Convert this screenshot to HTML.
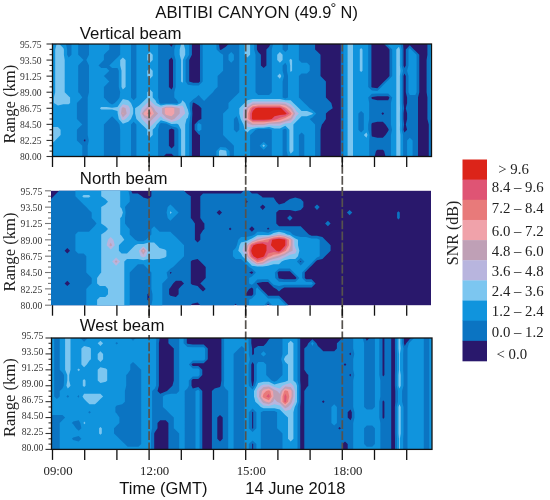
<!DOCTYPE html>
<html><head><meta charset="utf-8"><title>ABITIBI CANYON</title>
<style>
html,body{margin:0;padding:0;background:#fff;width:550px;height:500px;overflow:hidden}
svg{display:block}
.yt{font-family:'Liberation Serif', 'Times New Roman', serif;font-size:9.6px;fill:#333}
.xt{font-family:'Liberation Serif', 'Times New Roman', serif;font-size:12.8px;fill:#222}
.rl{font-family:'Liberation Serif', 'Times New Roman', serif;font-size:16.6px;fill:#222}
.cb{font-family:'Liberation Serif', 'Times New Roman', serif;font-size:14.8px;fill:#222}
.cbl{font-family:'Liberation Serif', 'Times New Roman', serif;font-size:16px;fill:#222}
.pl{font-family:'Liberation Sans', Arial, sans-serif;font-size:16px;fill:#111}
.xl{font-family:'Liberation Sans', Arial, sans-serif;font-size:16.5px;fill:#111}
.ti{font-family:'Liberation Sans', Arial, sans-serif;font-size:16px;fill:#111}
</style></head><body>
<svg width="550" height="500" viewBox="0 0 550 500" shape-rendering="geometricPrecision">
<rect width="550" height="500" fill="#fff"/>
<rect x="52.5" y="44.0" width="379.0" height="112.5" fill="#29186c"/>
<path fill="#0b74c2" d="M52.5 156.5L57.9 156.5L63.3 156.5L68.7 156.5L74.2 156.5L79.6 156.5L85.0 156.5L90.4 156.5L95.8 156.5L101.2 156.5L106.6 156.5L112.1 156.5L117.5 156.5L122.9 156.5L128.3 156.5L133.7 156.5L139.1 156.5L144.5 156.5L150.0 156.5L155.4 156.5L160.8 156.5L163.5 156.5L166.2 153.8L171.6 153.8L174.3 156.5L177.0 156.5L182.4 156.5L187.9 156.5L191.9 156.5L191.9 151.1L191.9 145.8L191.9 140.4L191.9 135.1L191.9 129.7L191.9 124.4L192.1 119.0L192.4 113.6L192.1 108.3L192.7 102.9L193.3 102.4L194.6 102.9L198.7 105.6L201.4 108.3L201.4 113.6L201.4 119.0L198.7 120.3L194.6 124.4L194.6 129.7L198.7 134.5L200.0 135.1L200.0 140.4L200.0 145.8L200.0 151.1L200.0 156.5L204.1 156.5L209.5 156.5L214.9 156.5L220.3 156.5L225.8 156.5L231.2 156.5L236.6 156.5L242.0 156.5L247.4 156.5L252.8 156.5L258.2 156.5L263.7 156.5L269.1 156.5L274.5 156.5L279.9 156.5L285.3 156.5L290.7 156.5L296.1 156.5L301.6 156.5L307.0 156.5L312.4 156.5L317.8 156.5L320.5 156.5L320.5 151.1L320.5 145.8L320.5 140.4L320.5 135.1L320.5 129.7L321.9 124.4L323.2 123.0L325.9 119.0L325.9 113.6L328.6 111.0L332.7 108.3L331.3 102.9L328.6 100.2L325.9 97.6L325.9 92.2L325.9 86.9L325.9 81.5L323.2 78.8L320.5 76.1L320.5 70.8L320.5 65.4L320.5 60.1L320.5 54.7L317.8 52.0L315.1 49.4L315.1 44.0L312.4 44.0L307.0 44.0L301.6 44.0L296.1 44.0L290.7 44.0L285.3 44.0L279.9 44.0L274.5 44.0L270.4 44.0L269.1 46.7L266.4 49.4L266.4 54.7L266.4 60.1L266.4 65.4L263.7 68.1L260.9 65.4L260.9 60.1L260.9 54.7L258.2 52.0L256.9 49.4L256.9 44.0L252.8 44.0L247.4 44.0L242.0 44.0L236.6 44.0L231.2 44.0L228.5 44.0L225.8 46.7L221.7 49.4L220.3 49.9L219.8 49.4L219.0 44.0L214.9 44.0L209.5 44.0L204.1 44.0L200.0 44.0L200.0 49.4L200.0 54.7L200.0 60.1L200.0 65.4L200.0 70.8L200.0 76.1L200.0 81.5L198.7 82.8L193.3 82.8L189.2 81.5L189.2 76.1L189.2 70.8L189.2 65.4L189.2 60.1L191.9 54.7L191.9 49.4L191.9 44.0L187.9 44.0L182.4 44.0L177.0 44.0L173.0 44.0L171.6 46.7L168.9 44.0L166.2 44.0L160.8 44.0L155.4 44.0L150.0 44.0L144.5 44.0L139.1 44.0L133.7 44.0L128.3 44.0L122.9 44.0L117.5 44.0L112.1 44.0L106.6 44.0L101.2 44.0L95.8 44.0L90.4 44.0L85.0 44.0L79.6 44.0L74.2 44.0L68.7 44.0L63.3 44.0L57.9 44.0L52.5 44.0L52.5 49.4L52.5 54.7L52.5 60.1L52.5 65.4L52.5 70.8L52.5 76.1L52.5 81.5L52.5 86.9L52.5 92.2L52.5 97.6L52.5 102.9L52.5 108.3L52.5 113.6L52.5 119.0L52.5 124.4L52.5 129.7L52.5 135.1L52.5 140.4L52.5 145.8L52.5 151.1ZM85.0 141.8L83.6 140.4L85.0 139.1L85.5 140.4ZM171.6 148.5L168.9 145.8L168.9 140.4L168.9 135.1L168.9 129.7L171.6 128.6L174.3 129.7L174.3 135.1L174.3 140.4L174.3 145.8ZM171.6 89.5L168.9 86.9L168.9 81.5L168.9 76.1L168.9 70.8L168.9 65.4L168.9 60.1L171.6 57.4L173.0 60.1L173.0 65.4L173.0 70.8L173.0 76.1L173.0 81.5L173.0 86.9ZM340.8 156.5L344.9 156.5L350.3 156.5L355.7 156.5L361.1 156.5L366.5 156.5L371.9 156.5L374.6 156.5L376.0 151.1L377.4 149.8L382.8 149.8L384.1 151.1L385.5 156.5L388.2 156.5L393.6 156.5L399.0 156.5L404.4 156.5L409.8 156.5L415.3 156.5L418.0 156.5L418.0 151.1L418.0 145.8L418.0 140.4L418.0 135.1L418.0 129.7L418.0 124.4L418.0 119.0L418.0 113.6L418.0 108.3L418.0 102.9L418.0 97.6L419.3 92.2L419.3 86.9L419.3 81.5L419.3 76.1L419.3 70.8L419.3 65.4L419.3 60.1L419.3 54.7L415.3 50.7L413.9 49.4L409.8 45.3L405.8 49.4L405.8 54.7L405.8 60.1L405.8 65.4L404.4 68.1L403.5 65.4L403.5 60.1L403.5 54.7L403.5 49.4L403.1 44.0L399.0 44.0L393.6 44.0L388.2 44.0L384.1 44.0L388.2 48.0L389.5 49.4L389.5 54.7L389.5 60.1L389.5 65.4L389.5 70.8L389.5 76.1L388.2 77.5L384.1 81.5L382.8 82.8L378.7 86.9L377.4 88.2L371.9 87.4L371.4 86.9L371.4 81.5L371.4 76.1L371.4 70.8L371.4 65.4L371.4 60.1L371.4 54.7L371.4 49.4L371.4 44.0L366.5 44.0L361.1 44.0L355.7 44.0L350.3 44.0L344.9 44.0L340.8 44.0L340.8 49.4L340.8 54.7L340.8 60.1L340.8 65.4L340.8 70.8L340.8 76.1L340.8 81.5L340.8 86.9L340.8 92.2L340.8 97.6L340.8 102.9L340.8 108.3L340.8 113.6L340.8 119.0L340.8 124.4L340.8 129.7L340.8 135.1L340.8 140.4L340.8 145.8L340.8 151.1ZM371.9 136.4L371.6 135.1L371.4 129.7L371.4 124.4L371.9 123.0L377.4 121.7L382.8 121.7L385.5 124.4L388.2 128.4L388.7 129.7L388.2 131.1L385.5 135.1L382.8 137.8L377.4 137.8ZM404.4 132.4L403.5 129.7L404.1 124.4L403.5 119.0L403.5 113.6L404.1 108.3L403.5 102.9L403.5 97.6L403.5 92.2L403.5 86.9L403.5 81.5L403.5 76.1L404.4 73.5L405.8 76.1L405.8 81.5L405.8 86.9L405.8 92.2L407.1 97.6L407.1 102.9L405.8 108.3L407.1 113.6L407.1 119.0L405.8 124.4L407.1 129.7ZM371.9 98.9L371.4 97.6L371.9 97.0L377.4 96.2L382.8 96.2L388.2 96.2L389.5 97.6L388.2 100.2L382.8 100.2L377.4 100.2ZM382.8 115.0L381.4 113.6L382.8 112.3L384.1 113.6ZM428.8 156.5L431.5 156.5L431.5 151.1L431.5 145.8L431.5 140.4L431.5 135.1L431.5 129.7L431.5 124.4L431.5 119.0L431.5 113.6L431.5 108.3L431.5 102.9L431.5 97.6L431.5 92.2L431.5 86.9L431.5 81.5L431.5 76.1L431.5 70.8L431.5 65.4L431.5 60.1L431.5 54.7L431.5 49.4L431.5 44.0L427.4 44.0L427.4 49.4L427.4 54.7L426.6 60.1L426.6 65.4L426.6 70.8L426.6 76.1L426.6 81.5L426.6 86.9L426.6 92.2L427.4 97.6L427.4 102.9L427.4 108.3L427.4 113.6L427.4 119.0L428.8 124.4L428.8 129.7L428.8 135.1L428.8 140.4L428.8 145.8L428.8 151.1Z"/>
<path fill="#1094dd" d="M52.5 156.5L57.9 156.5L63.3 156.5L68.7 156.5L74.2 156.5L79.6 156.5L82.3 156.5L82.3 151.1L82.3 145.8L79.6 143.1L76.9 140.4L76.9 135.1L76.9 129.7L79.6 127.0L82.3 124.4L79.6 121.7L76.9 119.0L76.9 113.6L76.9 108.3L76.9 102.9L79.6 100.2L82.3 97.6L79.6 93.6L78.2 92.2L78.2 86.9L78.2 81.5L78.2 76.1L78.2 70.8L78.2 65.4L79.6 64.1L83.6 60.1L79.6 56.1L78.2 54.7L78.2 49.4L78.2 44.0L74.2 44.0L71.5 44.0L71.5 49.4L71.5 54.7L68.7 57.4L67.1 54.7L67.1 49.4L66.0 44.0L63.3 44.0L57.9 44.0L52.5 44.0L52.5 49.4L52.5 54.7L52.5 60.1L52.5 65.4L52.5 70.8L52.5 76.1L52.5 81.5L52.5 86.9L52.5 92.2L52.5 97.6L52.5 102.9L52.5 108.3L52.5 113.6L52.5 119.0L52.5 124.4L52.5 129.7L52.5 135.1L52.5 140.4L52.5 145.8L52.5 151.1ZM87.7 156.5L90.4 156.5L95.8 156.5L101.2 156.5L103.9 156.5L103.9 151.1L103.9 145.8L103.9 140.4L103.9 135.1L103.9 129.7L103.9 124.4L106.6 121.7L109.3 119.0L112.1 116.3L114.8 119.0L117.5 121.7L119.5 124.4L120.2 129.7L120.2 135.1L120.2 140.4L120.2 145.8L120.2 151.1L120.2 156.5L122.9 156.5L128.3 156.5L131.0 156.5L131.0 151.1L131.0 145.8L131.0 140.4L131.0 135.1L131.0 129.7L131.0 124.4L133.7 121.7L136.4 124.4L136.4 129.7L136.4 135.1L136.4 140.4L136.4 145.8L136.4 151.1L136.4 156.5L139.1 156.5L144.5 156.5L150.0 156.5L155.4 156.5L158.1 156.5L158.1 151.1L158.1 145.8L158.1 140.4L158.1 135.1L158.1 129.7L159.4 124.4L160.8 123.0L166.2 123.5L168.2 124.4L171.6 126.3L177.0 127.7L178.4 129.7L178.4 135.1L178.4 140.4L178.4 145.8L178.4 151.1L178.4 156.5L182.4 156.5L187.9 156.5L189.2 156.5L189.2 151.1L189.2 145.8L189.2 140.4L189.2 135.1L189.2 129.7L189.2 124.4L189.8 119.0L190.6 113.6L189.8 108.3L189.5 102.9L193.3 99.2L196.0 97.6L198.7 94.9L200.7 97.6L204.1 100.9L207.5 97.6L209.5 95.6L212.9 92.2L214.9 89.5L217.6 86.9L217.6 81.5L217.6 76.1L220.3 73.5L223.1 70.8L223.1 65.4L223.1 60.1L223.1 54.7L220.3 53.1L216.6 49.4L216.3 44.0L214.9 44.0L209.5 44.0L204.1 44.0L202.7 44.0L202.7 49.4L202.7 54.7L202.7 60.1L202.7 65.4L202.7 70.8L202.7 76.1L202.7 81.5L198.7 85.5L193.3 85.5L187.9 84.8L185.6 81.5L185.6 76.1L185.6 70.8L185.6 65.4L185.6 60.1L187.9 56.7L189.2 54.7L189.2 49.4L189.2 44.0L187.9 44.0L182.4 44.0L177.0 44.0L175.7 44.0L174.3 49.4L174.3 54.7L175.7 60.1L175.7 65.4L175.7 70.8L175.7 76.1L175.7 81.5L175.7 86.9L174.3 92.2L174.3 97.6L177.0 100.2L178.4 102.9L177.0 103.6L171.6 103.5L166.2 103.5L160.8 103.8L159.4 102.9L158.1 97.6L158.1 92.2L158.1 86.9L158.1 81.5L158.1 76.1L158.1 70.8L158.1 65.4L158.1 60.1L158.1 54.7L158.1 49.4L158.1 44.0L155.4 44.0L150.0 44.0L144.5 44.0L139.1 44.0L136.4 44.0L136.4 49.4L136.4 54.7L136.4 60.1L136.4 65.4L136.4 70.8L136.4 76.1L136.4 81.5L136.4 86.9L136.4 92.2L136.4 97.6L133.7 100.2L131.0 97.6L131.0 92.2L131.0 86.9L131.0 81.5L131.0 76.1L131.0 70.8L131.0 65.4L131.0 60.1L131.0 54.7L131.0 49.4L131.0 44.0L128.3 44.0L122.9 44.0L120.2 44.0L120.2 49.4L120.2 54.7L117.5 57.4L114.8 60.1L112.1 62.8L109.3 65.4L112.1 68.1L117.5 68.1L118.8 70.8L118.8 76.1L118.8 81.5L118.8 86.9L120.2 92.2L119.5 97.6L117.5 100.2L114.8 102.9L112.1 104.5L109.3 102.9L106.6 100.2L103.9 97.6L103.9 92.2L103.9 86.9L106.6 84.2L109.3 81.5L106.6 78.8L103.9 76.1L106.6 73.5L109.3 70.8L106.6 68.1L101.2 68.1L98.5 65.4L101.2 62.8L103.9 60.1L103.9 54.7L106.6 52.0L109.3 49.4L109.3 44.0L106.6 44.0L101.2 44.0L95.8 44.0L90.4 44.0L89.0 44.0L89.0 49.4L89.0 54.7L86.3 60.1L89.0 65.4L89.0 70.8L89.0 76.1L89.0 81.5L89.0 86.9L89.0 92.2L87.7 97.6L87.7 102.9L87.7 108.3L87.7 113.6L87.7 119.0L87.7 124.4L87.7 129.7L87.7 135.1L88.8 140.4L87.7 145.8L87.7 151.1ZM216.3 156.5L220.3 156.5L225.8 156.5L229.8 156.5L229.5 151.1L225.8 147.4L220.3 147.1L216.3 151.1ZM233.9 156.5L236.6 156.5L242.0 156.5L247.4 156.5L250.1 156.5L250.1 151.1L250.1 145.8L250.1 140.4L250.1 135.1L252.8 132.4L255.5 129.7L258.2 129.0L263.7 129.0L269.1 128.8L271.8 129.7L271.8 135.1L271.8 140.4L271.8 145.8L271.8 151.1L271.8 156.5L274.5 156.5L279.9 156.5L282.6 156.5L282.6 151.1L282.6 145.8L282.6 140.4L282.6 135.1L282.6 129.7L285.3 128.4L286.7 129.7L286.7 135.1L286.7 140.4L286.7 145.8L286.7 151.1L288.0 156.5L290.7 156.5L296.1 156.5L298.9 156.5L298.9 151.1L298.9 145.8L298.9 140.4L298.9 135.1L301.6 132.4L304.3 135.1L304.3 140.4L304.3 145.8L304.3 151.1L304.3 156.5L307.0 156.5L312.4 156.5L315.1 156.5L315.1 151.1L315.1 145.8L315.1 140.4L315.1 135.1L315.1 129.7L315.1 124.4L312.4 121.7L309.7 119.0L312.4 117.4L316.2 113.6L312.4 109.9L309.7 108.3L307.0 105.6L304.3 102.9L301.6 100.2L298.9 97.6L298.9 92.2L298.9 86.9L298.9 81.5L298.9 76.1L301.6 73.5L307.0 73.5L309.7 70.8L309.7 65.4L307.0 62.8L301.6 62.8L298.9 60.1L298.9 54.7L298.9 49.4L298.9 44.0L296.1 44.0L290.7 44.0L288.0 44.0L288.0 49.4L285.3 52.0L282.6 49.4L282.6 44.0L279.9 44.0L274.5 44.0L273.1 44.0L271.8 49.4L271.8 54.7L271.8 60.1L271.8 65.4L271.8 70.8L271.8 76.1L271.8 81.5L271.8 86.9L271.8 92.2L269.1 94.9L263.7 94.9L258.2 94.9L255.5 92.2L255.5 86.9L255.5 81.5L255.5 76.1L255.5 70.8L255.5 65.4L255.5 60.1L255.5 54.7L254.2 49.4L254.2 44.0L252.8 44.0L247.4 44.0L242.0 44.0L239.3 44.0L239.3 49.4L239.3 54.7L239.3 60.1L239.3 65.4L239.3 70.8L239.3 76.1L239.3 81.5L239.3 86.9L239.3 92.2L236.6 94.9L233.9 97.6L231.2 100.2L228.5 102.9L228.5 108.3L225.8 111.0L223.1 113.6L223.1 119.0L223.1 124.4L223.1 129.7L223.1 135.1L225.8 137.8L228.5 140.4L231.2 143.1L233.9 145.8L233.9 151.1ZM236.6 132.4L233.9 129.7L233.9 124.4L233.9 119.0L236.6 116.3L237.9 119.0L239.3 124.4L239.3 129.7ZM285.3 98.5L282.6 97.6L282.6 92.2L282.6 86.9L282.6 81.5L284.0 76.1L282.6 70.8L282.6 65.4L285.3 62.8L286.9 65.4L286.9 70.8L288.0 76.1L288.0 81.5L288.0 86.9L288.0 92.2L288.0 97.6ZM343.5 156.5L344.9 156.5L350.3 156.5L355.7 156.5L361.1 156.5L366.5 156.5L369.2 156.5L369.2 151.1L369.2 145.8L369.2 140.4L369.6 135.1L368.2 129.7L368.2 124.4L369.2 119.0L369.2 113.6L369.2 108.3L369.2 102.9L368.2 97.6L371.9 93.8L377.4 93.6L382.8 93.6L388.2 93.6L392.2 97.6L390.9 102.9L390.9 108.3L390.9 113.6L390.9 119.0L390.9 124.4L392.0 129.7L390.9 135.1L390.9 140.4L390.9 145.8L390.9 151.1L390.9 156.5L393.6 156.5L399.0 156.5L403.1 156.5L403.1 151.1L403.1 145.8L403.1 140.4L403.1 135.1L401.7 129.7L402.1 124.4L401.7 119.0L401.7 113.6L402.1 108.3L401.7 102.9L401.7 97.6L401.7 92.2L401.7 86.9L401.7 81.5L401.7 76.1L403.1 70.8L401.7 65.4L401.7 60.1L401.7 54.7L401.7 49.4L400.4 44.0L399.0 44.0L393.6 44.0L388.2 44.0L386.8 44.0L388.2 45.3L392.2 49.4L392.2 54.7L392.2 60.1L392.2 65.4L392.2 70.8L392.2 76.1L388.2 80.2L386.8 81.5L382.8 85.5L381.4 86.9L377.4 90.9L371.9 90.6L368.2 86.9L368.2 81.5L368.2 76.1L368.2 70.8L368.2 65.4L368.2 60.1L368.2 54.7L368.2 49.4L368.2 44.0L366.5 44.0L361.1 44.0L355.7 44.0L350.3 44.0L344.9 44.0L343.5 44.0L343.5 49.4L343.5 54.7L343.5 60.1L343.5 65.4L343.5 70.8L343.5 76.1L343.5 81.5L343.5 86.9L343.5 92.2L343.5 97.6L343.5 102.9L343.5 108.3L343.5 113.6L343.5 119.0L343.5 124.4L343.5 129.7L343.5 135.1L343.5 140.4L343.5 145.8L343.5 151.1ZM361.1 132.4L358.4 129.7L358.4 124.4L358.4 119.0L358.4 113.6L361.1 111.0L363.8 113.6L363.8 119.0L363.8 124.4L363.8 129.7ZM407.1 156.5L409.8 156.5L412.6 156.5L412.6 151.1L412.6 145.8L412.6 140.4L409.8 137.8L407.1 140.4L407.1 145.8L407.1 151.1ZM259.6 145.8L263.7 149.8L267.7 145.8L263.7 141.8ZM197.3 129.7L198.7 131.3L201.4 129.7L201.4 124.4L198.7 123.0L197.3 124.4ZM430.1 119.0L431.5 121.7L431.5 119.0L431.5 113.6L431.5 108.3L431.5 102.9L431.5 97.6L431.5 92.2L431.5 86.9L431.5 81.5L431.5 76.1L431.5 70.8L431.5 65.4L431.5 60.1L431.5 54.7L431.5 49.4L431.5 44.0L430.1 44.0L430.1 49.4L430.1 54.7L429.9 60.1L429.9 65.4L429.9 70.8L429.9 76.1L429.9 81.5L429.9 86.9L429.9 92.2L430.1 97.6L430.1 102.9L430.1 108.3L430.1 113.6ZM408.5 92.2L409.8 94.9L415.3 94.9L416.6 92.2L416.6 86.9L416.6 81.5L416.6 76.1L416.6 70.8L416.6 65.4L416.6 60.1L416.6 54.7L415.3 53.4L411.2 49.4L409.8 48.0L408.5 49.4L408.5 54.7L408.5 60.1L408.5 65.4L407.1 70.8L408.5 76.1L408.5 81.5L408.5 86.9ZM228.5 60.1L231.2 62.8L233.9 60.1L233.9 54.7L231.2 52.0L228.5 54.7Z"/>
<path fill="#7cc6f0" d="M181.1 156.5L182.4 156.5L185.2 156.5L185.2 151.1L185.2 145.8L185.2 140.4L185.2 135.1L185.2 129.7L185.2 124.4L186.5 119.0L187.9 117.7L188.8 113.6L187.9 109.6L187.3 108.3L185.2 102.9L182.4 100.2L181.1 102.9L177.0 104.9L171.6 104.5L166.2 104.5L160.8 105.6L156.7 102.9L155.4 100.2L152.7 97.6L152.7 92.2L150.0 89.5L147.2 92.2L147.2 97.6L144.5 100.2L141.8 102.9L139.1 105.6L135.1 108.3L135.1 113.6L136.4 119.0L139.1 121.7L141.8 124.4L144.5 127.0L147.2 129.7L147.2 135.1L150.0 137.8L152.7 135.1L152.7 129.7L155.4 127.0L156.7 124.4L160.8 120.3L166.2 121.7L171.6 124.0L177.0 123.8L178.4 124.4L181.1 129.7L181.1 135.1L181.1 140.4L181.1 145.8L181.1 151.1ZM219.0 156.5L220.3 156.5L225.8 156.5L227.1 156.5L226.3 151.1L225.8 150.6L220.3 149.8L219.0 151.1ZM289.4 151.1L290.7 153.8L293.4 151.1L293.4 145.8L293.4 140.4L293.4 135.1L293.4 129.7L293.4 124.4L296.1 121.7L298.9 119.0L301.6 116.3L307.0 116.3L312.4 114.2L312.9 113.6L312.4 113.1L307.0 111.0L301.6 111.0L298.9 108.3L296.1 105.6L293.4 102.9L290.7 100.2L285.3 100.2L279.9 98.9L274.5 98.9L269.1 98.9L263.7 98.9L258.2 98.9L252.8 98.9L247.4 100.2L244.7 102.9L242.0 105.6L239.3 108.3L239.3 113.6L240.6 119.0L242.0 121.7L243.4 124.4L244.7 129.7L247.4 132.4L250.1 129.7L252.8 128.8L258.2 127.7L263.7 127.7L269.1 127.0L274.5 128.4L279.9 128.4L285.3 125.7L289.4 129.7L289.4 135.1L289.4 140.4L289.4 145.8ZM347.6 156.5L350.3 156.5L353.0 156.5L353.0 151.1L353.0 145.8L353.0 140.4L353.0 135.1L353.0 129.7L353.0 124.4L353.0 119.0L353.0 113.6L353.0 108.3L353.0 102.9L353.0 97.6L353.0 92.2L353.0 86.9L353.0 81.5L353.0 76.1L353.0 70.8L353.0 65.4L353.0 60.1L353.0 54.7L353.0 49.4L353.0 44.0L350.3 44.0L347.6 44.0L347.6 49.4L347.6 54.7L347.6 60.1L347.6 65.4L347.6 70.8L347.6 76.1L347.6 81.5L347.6 86.9L347.6 92.2L347.6 97.6L347.6 102.9L347.6 108.3L347.6 113.6L347.6 119.0L347.6 124.4L347.6 129.7L347.6 135.1L347.6 140.4L347.6 145.8L347.6 151.1ZM396.3 156.5L399.0 156.5L400.4 156.5L400.4 151.1L400.4 145.8L400.4 140.4L400.4 135.1L399.9 129.7L400.0 124.4L399.9 119.0L399.9 113.6L400.0 108.3L399.9 102.9L399.9 97.6L399.9 92.2L399.9 86.9L399.9 81.5L399.9 76.1L400.4 70.8L399.9 65.4L399.9 60.1L399.9 54.7L399.9 49.4L399.0 46.7L396.3 49.4L396.3 54.7L396.3 60.1L396.3 65.4L396.3 70.8L396.3 76.1L396.3 81.5L396.3 86.9L396.3 92.2L396.3 97.6L396.3 102.9L396.3 108.3L396.3 113.6L396.3 119.0L396.3 124.4L396.3 129.7L396.3 135.1L396.3 140.4L396.3 145.8L396.3 151.1ZM262.3 145.8L263.7 147.1L265.0 145.8L263.7 144.4ZM52.5 140.4L52.5 143.1L55.2 140.4L57.9 137.8L60.6 135.1L60.6 129.7L57.9 127.0L52.5 127.0L52.5 129.7L52.5 135.1ZM363.8 135.1L366.5 137.8L367.5 135.1L366.5 132.4ZM118.8 119.0L122.9 123.8L128.3 121.7L131.0 119.0L133.2 113.6L133.2 108.3L131.0 102.9L128.3 100.2L122.9 98.9L120.2 102.9L117.5 106.9L112.1 107.8L106.6 106.9L101.2 106.9L99.9 108.3L101.2 109.6L106.6 109.6L112.1 109.6L117.5 111.0L117.7 113.6ZM53.9 102.9L57.9 105.6L63.3 104.3L68.7 104.3L70.1 102.9L70.1 97.6L68.7 96.2L64.7 92.2L64.7 86.9L64.7 81.5L64.7 76.1L64.7 70.8L64.7 65.4L64.7 60.1L63.9 54.7L63.9 49.4L63.3 48.0L59.3 44.0L57.9 44.0L56.6 44.0L55.2 49.4L55.2 54.7L55.2 60.1L55.2 65.4L55.2 70.8L55.2 76.1L55.2 81.5L55.2 86.9L55.2 92.2L53.9 97.6ZM121.5 86.9L122.9 89.5L125.6 86.9L125.6 81.5L125.6 76.1L125.6 70.8L125.6 65.4L125.6 60.1L122.9 57.4L120.2 60.1L120.2 65.4L121.5 70.8L121.5 76.1L121.5 81.5ZM181.1 81.5L182.4 82.8L182.9 81.5L182.9 76.1L182.9 70.8L182.9 65.4L182.9 60.1L185.2 54.7L185.2 49.4L183.8 44.0L182.4 44.0L181.1 44.0L179.7 49.4L179.7 54.7L181.1 60.1L181.1 65.4L181.1 70.8L181.1 76.1ZM147.2 76.1L150.0 78.8L152.7 76.1L152.7 70.8L150.0 68.1L147.2 70.8ZM277.2 76.1L279.9 78.8L281.3 76.1L279.9 73.5ZM290.2 70.8L290.7 72.1L292.1 70.8L292.1 65.4L292.1 60.1L290.7 58.7L289.4 60.1L290.2 65.4ZM359.8 70.8L361.1 72.1L362.5 70.8L362.5 65.4L362.5 60.1L362.5 54.7L362.5 49.4L361.1 48.0L359.8 49.4L359.8 54.7L359.8 60.1L359.8 65.4ZM147.2 60.1L150.0 62.8L152.7 60.1L152.7 54.7L150.0 52.0L147.2 54.7ZM277.2 60.1L279.9 62.8L282.6 60.1L282.6 54.7L279.9 52.0L277.2 54.7ZM244.7 54.7L247.4 57.4L250.1 54.7L250.1 49.4L250.1 44.0L247.4 44.0L244.7 44.0L244.7 49.4Z"/>
<path fill="#b8b5de" d="M147.2 124.4L150.0 127.0L152.7 124.4L155.4 121.7L158.1 119.0L160.8 116.3L163.5 119.0L166.2 119.9L171.6 122.0L177.0 120.6L179.7 119.0L182.4 116.3L185.2 113.6L184.1 108.3L182.4 105.6L177.0 106.3L171.6 105.6L166.2 105.6L160.8 107.4L155.4 105.6L152.7 102.9L150.0 100.2L147.2 102.9L144.5 105.6L141.8 108.3L140.0 113.6L141.8 119.0L144.5 121.7ZM246.1 124.4L247.4 127.0L252.8 127.0L258.2 126.4L263.7 126.4L269.1 125.2L274.5 125.7L279.9 125.7L282.6 124.4L285.3 123.5L290.7 123.0L294.8 119.0L296.1 116.3L298.9 113.6L296.1 111.0L294.8 108.3L290.7 104.3L288.0 102.9L285.3 102.0L279.9 101.6L274.5 101.6L269.1 101.6L263.7 101.6L258.2 101.6L252.8 101.6L250.1 102.9L247.4 104.3L243.4 108.3L242.9 113.6L242.9 119.0ZM121.5 119.0L122.9 120.6L125.6 119.0L128.3 116.3L129.9 113.6L129.9 108.3L128.3 105.6L122.9 104.3L119.4 108.3L119.4 113.6Z"/>
<path fill="#bfa0b6" d="M250.1 124.4L252.8 125.2L258.2 125.0L263.7 125.0L266.4 124.4L269.1 123.8L274.5 123.7L279.9 123.5L285.3 121.7L290.7 120.3L292.1 119.0L295.2 113.6L292.1 108.3L290.7 106.9L285.3 103.8L279.9 103.5L274.5 103.5L269.1 103.5L263.7 103.5L258.2 103.5L252.8 103.6L247.4 106.9L246.1 108.3L244.7 113.6L244.7 119.0L247.4 123.0ZM147.2 119.0L150.0 121.7L152.7 119.0L155.4 116.3L158.1 113.6L155.4 111.0L154.0 108.3L150.0 104.3L145.9 108.3L144.5 109.6L141.8 113.6L144.5 117.7ZM168.9 119.0L171.6 120.0L174.3 119.0L177.0 116.3L179.7 113.6L179.7 108.3L177.0 107.6L171.6 106.7L166.2 106.7L162.1 108.3L162.1 113.6L166.2 117.7ZM121.0 113.6L122.9 117.4L126.7 113.6L125.6 108.3L122.9 106.9L121.7 108.3Z"/>
<path fill="#f0a2aa" d="M246.5 119.0L247.4 120.3L252.8 123.7L258.2 123.7L263.7 123.7L269.1 122.8L274.5 122.3L279.9 121.7L285.3 119.9L288.0 119.0L290.7 117.7L293.4 113.6L290.7 109.6L289.4 108.3L285.3 105.6L279.9 104.5L274.5 104.5L269.1 104.5L263.7 104.5L258.2 104.5L252.8 104.9L248.3 108.3L247.4 111.0L246.5 113.6ZM122.6 113.6L122.9 114.2L123.4 113.6L122.9 112.3ZM143.6 113.6L144.5 115.0L150.0 117.7L154.0 113.6L151.3 108.3L150.0 106.9L148.6 108.3L144.5 112.3ZM164.8 113.6L166.2 115.0L171.6 116.3L174.3 113.6L174.3 108.3L171.6 107.8L166.2 107.8L164.8 108.3Z"/>
<path fill="#e87a7a" d="M248.3 119.0L252.8 122.3L258.2 122.3L263.7 122.3L269.1 121.7L274.5 121.0L279.9 119.9L282.6 119.0L285.3 118.1L290.7 115.0L291.6 113.6L290.7 112.3L286.7 108.3L285.3 107.4L279.9 105.6L274.5 105.6L269.1 105.6L263.7 105.6L258.2 105.6L252.8 106.3L250.1 108.3L248.3 113.6ZM147.2 113.6L150.0 115.0L151.3 113.6L150.0 111.0Z"/>
<path fill="#df5474" d="M250.1 119.0L252.8 121.0L258.2 121.0L263.7 121.0L269.1 120.6L274.5 119.7L277.2 119.0L279.9 117.7L285.3 116.3L289.4 113.6L285.3 109.6L284.0 108.3L279.9 106.7L274.5 106.7L269.1 106.7L263.7 106.7L258.2 106.7L252.8 107.6L251.9 108.3L250.1 113.6Z"/>
<path fill="#dc2419" d="M251.9 119.0L252.8 119.7L258.2 119.7L263.7 119.7L269.1 119.5L271.8 119.0L274.5 116.3L279.9 115.0L285.3 114.5L286.7 113.6L285.3 112.3L281.3 108.3L279.9 107.8L274.5 107.8L269.1 107.8L263.7 107.8L258.2 107.8L255.5 108.3L252.8 111.0L251.9 113.6Z"/>
<rect x="51.0" y="190.8" width="380.0" height="114.4" fill="#29186c"/>
<path fill="#0b74c2" d="M51.0 305.2L56.4 305.2L61.9 305.2L67.3 305.2L72.7 305.2L78.1 305.2L83.6 305.2L89.0 305.2L94.4 305.2L99.9 305.2L105.3 305.2L110.7 305.2L116.1 305.2L121.6 305.2L127.0 305.2L132.4 305.2L137.9 305.2L143.3 305.2L148.7 305.2L154.1 305.2L159.6 305.2L165.0 305.2L170.4 305.2L175.9 305.2L181.3 305.2L186.7 305.2L190.8 305.2L192.1 303.8L197.6 302.5L200.3 305.2L203.0 305.2L208.4 305.2L213.9 305.2L219.3 305.2L224.7 305.2L230.1 305.2L234.2 305.2L235.6 303.8L236.9 305.2L241.0 305.2L246.4 305.2L251.9 305.2L257.3 305.2L262.7 305.2L266.8 305.2L268.1 303.8L269.5 305.2L273.6 305.2L279.0 305.2L284.4 305.2L288.5 305.2L284.4 301.1L283.1 299.8L279.0 295.7L273.6 295.7L268.1 295.7L266.8 294.3L262.7 290.2L261.4 288.9L257.3 284.0L256.7 283.4L257.3 282.9L262.7 282.0L268.1 282.0L269.5 283.4L273.6 287.5L276.3 288.9L279.0 291.6L281.7 288.9L284.4 287.5L289.9 287.5L295.3 287.5L300.7 287.5L306.1 287.5L311.6 287.5L315.6 283.4L311.6 279.3L306.1 279.3L304.8 278.0L304.8 272.5L306.1 271.2L310.2 267.1L311.6 265.7L315.6 261.6L317.0 260.3L322.4 258.9L325.1 256.2L327.9 253.4L330.6 250.7L330.6 245.3L327.9 242.6L325.1 239.8L322.4 237.1L317.0 235.7L311.6 235.7L308.9 234.4L306.1 231.7L303.4 228.9L300.7 226.2L295.3 226.2L289.9 226.2L284.4 226.2L279.0 226.2L276.3 223.5L276.3 218.0L276.3 212.6L279.0 209.9L284.4 209.9L289.9 209.9L295.3 211.2L300.7 209.9L303.4 207.1L303.4 201.7L300.7 199.0L295.3 197.6L289.9 199.0L285.8 201.7L284.4 203.1L279.0 204.4L276.3 201.7L273.6 197.6L268.1 197.6L262.7 197.6L261.4 196.2L257.3 193.5L251.9 193.5L249.1 190.8L246.4 190.8L243.7 190.8L241.0 193.5L235.6 193.5L230.1 193.5L224.7 193.5L219.3 193.5L213.9 193.5L208.4 193.5L203.0 193.5L200.3 196.2L200.3 201.7L200.3 207.1L200.3 212.6L200.3 218.0L203.0 222.1L204.4 223.5L204.4 228.9L203.0 230.3L200.3 234.4L200.3 239.8L197.6 242.6L194.9 239.8L194.9 234.4L194.9 228.9L194.9 223.5L192.1 219.4L190.8 218.0L190.8 212.6L190.8 207.1L190.8 201.7L190.8 196.2L186.7 193.5L184.0 190.8L181.3 190.8L175.9 190.8L170.4 190.8L165.0 190.8L159.6 190.8L154.1 190.8L151.4 190.8L151.4 196.2L148.7 199.0L143.3 197.6L141.9 196.2L137.9 193.5L132.4 193.5L131.1 190.8L127.0 190.8L121.6 190.8L116.1 190.8L110.7 190.8L105.3 190.8L99.9 190.8L94.4 190.8L89.0 190.8L83.6 190.8L78.1 190.8L72.7 190.8L67.3 190.8L61.9 190.8L59.1 190.8L56.4 193.5L53.7 196.2L51.0 199.0L51.0 201.7L51.0 207.1L51.0 212.6L51.0 218.0L51.0 223.5L51.0 228.9L51.0 234.4L51.0 239.8L51.0 245.3L51.0 250.7L51.0 256.2L51.0 261.6L51.0 267.1L51.0 272.5L51.0 278.0L51.0 283.4L51.0 288.9L51.0 294.3L51.0 299.8ZM67.3 286.1L64.6 283.4L67.3 280.7L70.0 283.4ZM148.7 301.1L147.4 299.8L147.4 294.3L148.7 292.9L149.3 294.3L149.3 299.8ZM170.4 295.7L169.1 294.3L169.1 288.9L170.4 287.5L173.1 283.4L175.9 280.7L181.3 280.7L184.0 283.4L181.3 286.1L178.6 288.9L178.6 294.3L175.9 297.0ZM203.0 291.6L200.3 288.9L197.6 286.1L192.1 284.8L190.8 283.4L190.8 278.0L190.8 272.5L190.8 267.1L190.8 261.6L192.1 260.3L197.6 258.9L200.3 261.6L203.0 264.3L205.7 267.1L205.7 272.5L205.7 278.0L203.0 280.7L200.3 283.4L203.0 286.1L205.7 288.9ZM219.3 215.3L216.6 212.6L219.3 209.9L222.0 212.6ZM230.1 230.3L228.8 228.9L230.1 227.6L231.5 228.9ZM246.4 295.7L245.1 294.3L246.4 292.9L249.1 288.9L251.9 287.5L253.2 288.9L253.2 294.3L251.9 295.7ZM262.7 209.9L260.0 207.1L262.7 204.4L265.4 207.1ZM268.1 229.5L266.8 228.9L268.1 227.6L269.5 228.9ZM279.0 278.5L278.5 278.0L277.6 272.5L279.0 271.2L284.4 271.2L289.9 271.2L291.2 272.5L295.3 276.6L296.6 278.0L295.3 279.3L289.9 279.3L284.4 279.3ZM300.7 262.2L300.2 261.6L300.7 261.1L301.3 261.6ZM67.3 253.4L64.6 250.7L67.3 248.0L70.0 250.7ZM170.4 273.9L169.9 272.5L170.4 272.0L171.8 272.5ZM246.4 203.1L245.1 201.7L246.4 200.3L247.8 201.7ZM251.9 273.9L249.1 272.5L251.9 271.2L253.2 272.5ZM251.9 231.7L249.1 228.9L251.9 226.2L254.6 228.9ZM325.1 223.5L327.9 226.2L330.6 223.5L327.9 220.8ZM287.1 218.0L289.9 220.8L292.6 218.0L289.9 215.3ZM397.1 218.0L398.4 219.4L399.8 218.0L399.8 212.6L398.4 211.2L397.1 212.6ZM346.9 212.6L349.6 215.3L352.3 212.6L349.6 209.9ZM314.3 207.1L317.0 209.9L319.7 207.1L317.0 204.4Z"/>
<path fill="#1094dd" d="M86.3 305.2L89.0 305.2L94.4 305.2L99.9 305.2L105.3 305.2L110.7 305.2L116.1 305.2L121.6 305.2L127.0 305.2L129.7 305.2L129.7 299.8L129.7 294.3L129.7 288.9L129.7 283.4L129.7 278.0L129.7 272.5L132.4 269.8L135.1 267.1L137.9 264.3L143.3 264.3L146.0 267.1L148.7 269.8L151.4 272.5L151.4 278.0L151.4 283.4L151.4 288.9L152.5 294.3L152.5 299.8L151.4 305.2L154.1 305.2L159.6 305.2L162.3 305.2L162.3 299.8L162.3 294.3L162.3 288.9L162.3 283.4L165.0 280.7L167.7 278.0L166.6 272.5L170.4 268.7L173.1 267.1L175.9 264.3L178.6 261.6L181.3 258.9L184.0 256.2L184.0 250.7L184.0 245.3L181.3 242.6L178.6 239.8L175.9 237.1L173.1 234.4L170.4 231.7L165.0 231.7L159.6 231.7L156.9 228.9L154.1 226.2L151.4 228.9L151.4 234.4L148.7 237.1L146.0 239.8L143.3 241.2L137.9 241.2L135.1 239.8L132.4 237.1L129.7 234.4L129.7 228.9L127.0 226.2L125.0 223.5L125.0 218.0L125.6 212.6L125.0 207.1L127.0 204.4L129.7 201.7L129.7 196.2L128.4 190.8L127.0 190.8L121.6 190.8L116.1 190.8L110.7 190.8L105.3 190.8L99.9 190.8L94.4 190.8L89.0 190.8L83.6 190.8L78.1 190.8L75.4 190.8L75.4 196.2L78.1 199.0L80.9 201.7L83.6 204.4L86.3 207.1L89.0 209.9L91.7 212.6L91.7 218.0L94.4 220.8L96.5 223.5L94.4 226.2L91.7 228.9L89.0 231.7L83.6 231.7L78.1 231.7L75.4 234.4L75.4 239.8L75.4 245.3L75.4 250.7L78.1 253.4L83.6 253.4L86.3 256.2L86.3 261.6L86.3 267.1L86.3 272.5L89.0 275.2L91.7 278.0L91.7 283.4L89.0 286.1L86.3 288.9L86.3 294.3L86.3 299.8ZM249.1 305.2L251.9 305.2L257.3 305.2L262.7 305.2L264.1 305.2L268.1 301.1L272.2 305.2L273.6 305.2L279.0 305.2L284.4 305.2L285.8 305.2L284.4 303.8L280.4 299.8L279.0 298.4L273.6 298.4L268.1 298.4L264.1 294.3L262.7 292.9L258.6 288.9L257.3 287.2L255.9 288.9L255.9 294.3L251.9 298.4L249.1 299.8ZM249.1 283.4L251.9 284.8L253.5 283.4L257.3 279.6L262.7 279.3L268.1 279.3L272.2 283.4L273.6 284.8L279.0 286.1L284.4 284.8L289.9 284.8L295.3 284.8L300.7 284.8L306.1 284.8L311.6 284.8L312.9 283.4L311.6 282.0L306.1 282.0L302.1 278.0L302.1 272.5L306.1 268.4L307.5 267.1L311.6 263.0L312.9 261.6L317.0 257.5L319.7 256.2L319.7 250.7L319.7 245.3L319.7 239.8L317.0 238.5L311.6 238.5L306.1 237.1L300.7 237.1L295.3 235.7L292.6 234.4L289.9 231.7L284.4 230.3L279.0 229.8L273.6 230.3L268.1 232.7L262.7 231.7L257.3 231.7L254.6 234.4L251.9 235.7L246.4 237.1L241.0 237.1L238.3 239.8L236.9 245.3L235.6 248.0L232.9 250.7L232.9 256.2L235.6 258.9L241.0 258.9L243.7 261.6L246.4 264.3L249.1 267.1L251.9 268.4L255.9 272.5L251.9 276.6L249.1 278.0ZM279.0 281.8L275.2 278.0L274.9 272.5L279.0 268.4L284.4 268.4L289.9 268.4L293.9 272.5L295.3 273.9L299.4 278.0L295.3 282.0L289.9 282.0L284.4 282.0ZM300.7 265.4L296.9 261.6L300.7 257.8L304.5 261.6ZM167.7 218.0L170.4 220.8L173.1 218.0L175.9 215.3L178.6 212.6L175.9 209.9L173.1 207.1L170.4 204.4L167.7 207.1L166.6 212.6Z"/>
<path fill="#7cc6f0" d="M97.1 305.2L99.9 305.2L105.3 305.2L110.7 305.2L116.1 305.2L121.6 305.2L124.3 305.2L124.3 299.8L124.3 294.3L124.3 288.9L124.3 283.4L124.3 278.0L124.3 272.5L124.3 267.1L124.3 261.6L127.0 258.9L132.4 258.9L137.9 258.9L143.3 260.3L148.7 258.9L154.1 258.9L159.6 258.9L165.0 257.5L166.4 256.2L166.4 250.7L165.0 249.4L159.6 248.0L156.9 245.3L154.1 242.6L148.7 242.6L143.3 243.9L137.9 243.9L135.1 245.3L132.4 248.0L129.7 250.7L127.0 253.4L121.6 253.4L118.9 250.7L118.9 245.3L121.6 242.6L124.3 239.8L121.6 235.7L120.2 234.4L120.2 228.9L120.2 223.5L120.2 218.0L121.6 216.7L122.9 212.6L121.6 208.5L120.2 207.1L120.2 201.7L120.2 196.2L120.2 190.8L116.1 190.8L110.7 190.8L105.3 190.8L101.2 190.8L101.2 196.2L105.3 199.0L108.0 201.7L105.3 204.4L101.2 207.1L101.2 212.6L101.2 218.0L101.2 223.5L105.3 226.2L108.0 228.9L105.3 231.7L101.2 234.4L101.2 239.8L101.2 245.3L101.2 250.7L101.2 256.2L101.2 261.6L101.2 267.1L101.2 272.5L99.9 273.9L97.1 278.0L97.1 283.4L99.9 286.1L105.3 286.1L108.0 288.9L108.0 294.3L105.3 297.0L99.9 297.0L97.1 299.8ZM247.8 261.6L251.9 265.7L257.3 266.5L262.7 266.4L268.1 265.7L273.6 264.3L279.0 264.3L281.7 261.6L284.4 260.3L289.9 258.9L295.3 258.9L298.0 256.2L299.4 250.7L298.0 245.3L298.0 239.8L295.3 238.5L289.9 235.1L287.1 234.4L284.4 233.0L279.0 231.7L273.6 233.0L270.9 234.4L268.1 234.9L262.7 235.1L257.3 235.3L251.9 238.5L249.1 239.8L246.4 241.2L241.0 242.6L239.6 245.3L238.3 250.7L241.0 253.4L242.4 256.2L246.4 260.3ZM169.9 212.6L170.4 214.0L171.8 212.6L170.4 211.2ZM82.2 196.2L83.6 197.6L89.0 197.6L90.4 196.2L89.0 194.9L83.6 194.9Z"/>
<path fill="#b8b5de" d="M112.1 261.6L116.1 265.7L120.2 261.6L116.1 257.5ZM250.5 261.6L251.9 263.0L257.3 265.4L262.7 265.0L268.1 263.0L270.9 261.6L273.6 260.7L279.0 260.3L284.4 257.5L287.1 256.2L289.9 254.8L295.3 253.4L296.6 250.7L295.3 248.0L294.4 245.3L294.4 239.8L289.9 236.4L284.4 234.8L281.7 234.4L279.0 233.5L276.3 234.4L273.6 234.8L268.1 236.0L262.7 236.4L257.3 237.1L253.2 239.8L251.9 240.4L246.4 243.9L243.7 245.3L242.4 250.7L245.1 256.2L246.4 257.5ZM140.6 256.2L143.3 257.5L146.0 256.2L147.8 250.7L143.3 246.2L138.8 250.7ZM106.6 245.3L110.7 249.4L114.8 245.3L113.4 239.8L110.7 237.1L108.0 239.8Z"/>
<path fill="#bfa0b6" d="M114.8 261.6L116.1 263.0L117.5 261.6L116.1 260.3ZM252.8 261.6L257.3 264.3L262.7 263.7L266.8 261.6L268.1 260.7L273.6 258.9L279.0 257.5L281.7 256.2L284.4 255.3L289.9 252.1L292.6 250.7L292.6 245.3L292.6 239.8L289.9 237.8L284.4 235.7L279.0 234.9L273.6 235.7L268.1 237.1L262.7 237.8L257.3 238.9L255.9 239.8L251.9 241.5L247.1 245.3L246.4 248.0L245.1 250.7L246.4 253.4L247.1 256.2L251.9 260.9ZM140.6 250.7L143.3 254.8L146.0 250.7L143.3 248.0ZM109.4 245.3L110.7 246.6L112.1 245.3L110.7 242.6Z"/>
<path fill="#f0a2aa" d="M254.6 261.6L257.3 263.3L262.7 262.3L264.1 261.6L268.1 258.9L273.6 257.1L276.3 256.2L279.0 255.5L284.4 253.4L288.5 250.7L289.9 248.0L290.8 245.3L290.8 239.8L289.9 239.1L284.4 236.7L279.0 235.8L273.6 236.7L268.1 238.2L262.7 239.1L260.0 239.8L257.3 240.4L251.9 242.6L248.5 245.3L247.1 250.7L248.5 256.2L251.9 259.6ZM142.4 250.7L143.3 252.1L144.2 250.7L143.3 249.8Z"/>
<path fill="#e87a7a" d="M256.4 261.6L257.3 262.2L260.0 261.6L262.7 260.7L268.1 257.1L270.9 256.2L273.6 254.8L279.0 254.1L284.4 251.6L285.8 250.7L289.0 245.3L289.0 239.8L284.4 237.6L279.0 236.8L273.6 237.6L268.1 239.3L265.4 239.8L262.7 240.6L257.3 241.6L251.9 243.6L249.8 245.3L248.5 250.7L249.8 256.2L251.9 258.2Z"/>
<path fill="#df5474" d="M251.2 256.2L251.9 256.9L257.3 260.6L262.7 258.9L266.8 256.2L268.1 253.4L273.6 252.1L279.0 252.8L283.1 250.7L284.4 249.4L287.1 245.3L287.1 239.8L284.4 238.5L279.0 237.7L273.6 238.5L269.5 239.8L268.1 242.6L262.7 242.1L257.3 242.7L251.9 244.7L251.2 245.3L249.8 250.7Z"/>
<path fill="#dc2419" d="M253.5 256.2L257.3 258.6L262.7 257.1L264.1 256.2L266.5 250.7L266.5 245.3L262.7 243.5L257.3 243.9L253.5 245.3L251.9 248.0L251.2 250.7L251.9 253.4ZM276.3 250.7L279.0 251.4L280.4 250.7L284.4 246.6L285.3 245.3L285.3 239.8L284.4 239.4L279.0 238.7L273.6 239.4L272.2 239.8L270.9 245.3L273.6 248.0Z"/>
<rect x="51.5" y="338.0" width="380.5" height="111.4" fill="#29186c"/>
<path fill="#0b74c2" d="M51.5 449.4L56.9 449.4L62.4 449.4L67.8 449.4L73.2 449.4L78.7 449.4L84.1 449.4L89.5 449.4L95.0 449.4L100.4 449.4L105.9 449.4L111.3 449.4L116.7 449.4L122.2 449.4L127.6 449.4L133.0 449.4L138.5 449.4L143.9 449.4L149.3 449.4L154.2 449.4L154.2 444.1L154.2 438.8L154.2 433.5L154.8 432.2L157.5 428.2L157.5 422.9L160.2 420.2L165.7 420.2L168.4 422.9L168.4 428.2L168.4 433.5L168.4 438.8L168.4 444.1L168.4 449.4L171.1 449.4L176.5 449.4L182.0 449.4L187.4 449.4L192.8 449.4L198.3 449.4L202.3 449.4L202.3 444.1L202.3 438.8L202.3 433.5L202.3 428.2L202.3 422.9L202.3 417.6L202.3 412.3L202.3 407.0L202.3 401.7L202.3 396.4L202.3 391.0L198.3 387.1L192.8 388.4L191.5 385.7L191.5 380.4L192.8 379.1L198.3 379.1L202.3 375.1L202.3 369.8L198.3 365.9L192.8 365.9L191.5 364.5L192.8 363.2L198.3 363.2L203.7 363.2L207.8 359.2L207.8 353.9L207.8 348.6L203.7 344.6L198.3 344.6L192.8 344.6L187.4 343.8L186.8 343.3L186.8 338.0L182.0 338.0L176.5 338.0L171.1 338.0L168.4 338.0L168.4 343.3L171.1 346.0L173.8 348.6L173.8 353.9L173.8 359.2L173.8 364.5L173.8 369.8L173.8 375.1L173.8 380.4L172.4 385.7L171.1 387.1L167.0 391.0L165.7 391.6L160.2 393.7L157.5 391.0L158.9 385.7L158.9 380.4L158.9 375.1L158.9 369.8L158.9 364.5L158.9 359.2L158.9 353.9L158.9 348.6L158.9 343.3L159.7 338.0L154.8 338.0L149.3 338.0L143.9 338.0L138.5 338.0L133.0 338.0L127.6 338.0L122.2 338.0L116.7 338.0L111.3 338.0L105.9 338.0L100.4 338.0L95.0 338.0L89.5 338.0L84.7 338.0L84.1 338.5L83.6 338.0L78.7 338.0L73.2 338.0L67.8 338.0L62.4 338.0L56.9 338.0L51.5 338.0L51.5 343.3L51.5 348.6L51.5 353.9L51.5 359.2L51.5 364.5L51.5 369.8L51.5 375.1L51.5 380.4L51.5 385.7L51.5 391.0L51.5 396.4L51.5 401.7L51.5 407.0L51.5 412.3L51.5 417.6L51.5 422.9L51.5 428.2L51.5 433.5L51.5 438.8L51.5 444.1ZM211.9 449.4L214.6 449.4L220.0 449.4L225.4 449.4L230.9 449.4L236.3 449.4L241.8 449.4L247.2 449.4L252.1 449.4L252.1 444.1L252.6 443.6L253.2 444.1L253.2 449.4L258.1 449.4L263.5 449.4L268.9 449.4L274.4 449.4L279.8 449.4L285.2 449.4L290.7 449.4L296.1 449.4L300.2 449.4L300.2 444.1L300.2 438.8L300.2 433.5L300.2 428.2L300.2 422.9L300.2 417.6L300.2 412.3L300.2 407.0L300.6 401.7L300.6 396.4L300.6 391.0L300.6 385.7L300.2 380.4L300.2 375.1L300.2 369.8L300.2 364.5L300.2 359.2L300.2 353.9L300.2 348.6L300.2 343.3L300.2 338.0L296.1 338.0L290.7 338.0L285.2 338.0L279.8 338.0L274.4 338.0L270.3 338.0L268.9 339.3L266.2 343.3L263.5 346.0L258.1 346.0L254.0 348.6L254.0 353.9L252.6 355.2L252.1 353.9L252.1 348.6L251.3 343.3L251.3 338.0L247.2 338.0L241.8 338.0L236.3 338.0L230.9 338.0L225.4 338.0L221.4 338.0L221.4 343.3L221.4 348.6L221.4 353.9L221.4 359.2L221.4 364.5L221.4 369.8L221.4 375.1L221.4 380.4L220.6 385.7L220.0 387.1L214.6 388.4L211.9 391.0L211.9 396.4L211.9 401.7L211.9 407.0L211.9 412.3L211.9 417.6L211.9 422.9L211.9 428.2L211.9 433.5L211.9 438.8L211.9 444.1ZM220.0 441.4L217.3 438.8L217.3 433.5L217.3 428.2L217.3 422.9L217.3 417.6L220.0 414.9L222.7 417.6L222.7 422.9L222.7 428.2L222.7 433.5L222.7 438.8ZM252.6 428.7L252.1 428.2L252.1 422.9L252.1 417.6L252.1 412.3L252.6 411.7L253.2 412.3L253.2 417.6L253.2 422.9L253.2 428.2ZM252.6 386.3L252.1 385.7L251.3 380.4L251.3 375.1L251.3 369.8L251.3 364.5L252.6 361.9L254.0 364.5L254.0 369.8L254.0 375.1L254.0 380.4L253.0 385.7ZM304.3 449.4L307.0 449.4L312.4 449.4L317.9 449.4L323.3 449.4L328.7 449.4L334.2 449.4L339.6 449.4L342.3 449.4L342.3 444.1L345.0 441.4L347.7 444.1L347.7 449.4L350.5 449.4L355.9 449.4L361.3 449.4L366.8 449.4L372.2 449.4L377.6 449.4L383.1 449.4L388.5 449.4L391.2 449.4L391.2 444.1L391.2 438.8L391.2 433.5L391.2 428.2L391.2 422.9L391.2 417.6L391.2 412.3L391.2 407.0L391.2 401.7L391.2 396.4L391.2 391.0L391.2 385.7L391.2 380.4L391.2 375.1L391.2 369.8L391.2 364.5L391.2 359.2L391.2 353.9L391.2 348.6L391.2 343.3L391.2 338.0L388.5 338.0L384.4 338.0L384.4 343.3L384.4 348.6L384.4 353.9L384.4 359.2L384.4 364.5L384.4 369.8L384.4 375.1L383.1 376.5L382.5 375.1L382.5 369.8L382.5 364.5L382.5 359.2L382.5 353.9L382.5 348.6L382.5 343.3L382.5 338.0L377.6 338.0L372.2 338.0L369.5 338.0L366.8 340.7L365.4 338.0L361.3 338.0L355.9 338.0L350.5 338.0L345.0 338.0L342.3 338.0L339.6 340.7L336.9 343.3L336.9 348.6L334.2 351.3L328.7 351.3L323.3 351.3L320.6 348.6L317.9 346.0L316.5 343.3L312.4 339.3L308.3 343.3L307.0 346.0L304.3 348.6L304.3 353.9L304.3 359.2L304.3 364.5L304.3 369.8L307.0 373.8L308.3 375.1L308.3 380.4L308.3 385.7L307.0 387.1L304.3 391.0L304.3 396.4L304.3 401.7L304.3 407.0L304.3 412.3L304.3 417.6L304.3 422.9L304.3 428.2L304.3 433.5L304.3 438.8L304.3 444.1ZM323.3 403.0L321.9 401.7L323.3 400.3L324.6 401.7ZM339.6 429.5L338.2 428.2L339.6 426.9L341.0 428.2ZM345.0 365.9L343.7 364.5L345.0 363.2L346.4 364.5ZM350.5 420.2L347.7 417.6L347.7 412.3L350.5 409.6L351.8 412.3L351.8 417.6ZM383.1 418.9L382.5 417.6L382.5 412.3L382.5 407.0L382.5 401.7L383.1 400.3L384.4 401.7L384.4 407.0L384.4 412.3L384.4 417.6ZM350.5 376.5L349.1 375.1L350.5 373.8L351.0 375.1ZM350.5 355.2L349.1 353.9L350.5 352.6L351.0 353.9ZM395.0 449.4L399.4 449.4L404.8 449.4L410.3 449.4L415.7 449.4L421.1 449.4L426.6 449.4L432.0 449.4L432.0 444.1L432.0 438.8L432.0 433.5L432.0 428.2L432.0 422.9L432.0 417.6L432.0 412.3L432.0 407.0L432.0 401.7L432.0 396.4L432.0 391.0L432.0 385.7L432.0 380.4L432.0 375.1L432.0 369.8L432.0 364.5L432.0 359.2L432.0 353.9L432.0 348.6L432.0 343.3L432.0 338.0L426.6 338.0L421.1 338.0L415.7 338.0L410.8 338.0L410.3 338.5L406.2 343.3L404.8 346.0L403.9 343.3L403.9 338.0L399.4 338.0L394.9 338.0L394.9 343.3L394.9 348.6L395.0 353.9L395.0 359.2L395.0 364.5L395.0 369.8L394.9 375.1L394.9 380.4L394.9 385.7L395.3 391.0L395.3 396.4L395.3 401.7L394.9 407.0L394.9 412.3L394.9 417.6L394.9 422.9L394.9 428.2L394.9 433.5L395.0 438.8L395.0 444.1Z"/>
<path fill="#1094dd" d="M59.7 449.4L62.4 449.4L67.8 449.4L73.2 449.4L78.7 449.4L84.1 449.4L89.5 449.4L95.0 449.4L100.4 449.4L105.9 449.4L111.3 449.4L116.7 449.4L122.2 449.4L127.6 449.4L133.0 449.4L138.5 449.4L143.9 449.4L149.3 449.4L151.0 449.4L151.0 444.1L151.0 438.8L151.0 433.5L152.1 428.2L152.1 422.9L152.1 417.6L152.1 412.3L152.1 407.0L152.1 401.7L152.1 396.4L152.1 391.0L154.8 388.4L156.1 385.7L156.1 380.4L156.1 375.1L156.1 369.8L156.1 364.5L156.1 359.2L156.1 353.9L156.1 348.6L156.1 343.3L156.4 338.0L154.8 338.0L149.3 338.0L143.9 338.0L138.5 338.0L135.8 338.0L133.0 340.7L130.3 338.0L127.6 338.0L122.2 338.0L116.7 338.0L111.3 338.0L105.9 338.0L100.4 338.0L95.0 338.0L89.5 338.0L87.9 338.0L84.1 341.7L80.3 338.0L78.7 338.0L73.2 338.0L67.8 338.0L62.4 338.0L59.7 338.0L59.7 343.3L59.7 348.6L59.7 353.9L59.7 359.2L59.7 364.5L59.7 369.8L62.4 372.5L64.0 375.1L64.0 380.4L63.7 385.7L62.4 388.4L59.7 391.0L59.7 396.4L56.9 399.0L54.2 396.4L54.2 391.0L54.2 385.7L54.2 380.4L54.2 375.1L54.2 369.8L54.2 364.5L54.2 359.2L54.2 353.9L54.2 348.6L54.2 343.3L54.2 338.0L51.5 338.0L51.5 343.3L51.5 348.6L51.5 353.9L51.5 359.2L51.5 364.5L51.5 369.8L51.5 375.1L51.5 380.4L51.5 385.7L51.5 391.0L51.5 396.4L51.5 401.7L51.5 407.0L51.5 412.3L51.5 414.9L56.9 414.9L62.4 414.9L65.1 417.6L62.4 420.2L59.7 422.9L59.7 428.2L59.7 433.5L59.7 438.8L59.7 444.1ZM67.8 397.7L66.4 396.4L67.8 395.0L69.2 396.4ZM73.2 440.1L71.9 438.8L73.2 437.5L78.7 436.1L81.4 438.8L78.7 441.4ZM89.5 413.6L88.2 412.3L89.5 410.9L90.9 412.3ZM127.6 446.7L124.9 444.1L122.2 441.4L119.4 438.8L116.7 436.1L114.0 433.5L114.0 428.2L116.7 425.5L119.4 422.9L119.4 417.6L116.7 413.6L115.4 412.3L115.4 407.0L116.7 405.6L122.2 404.3L124.9 401.7L124.9 396.4L124.9 391.0L126.2 385.7L126.2 380.4L126.2 375.1L127.6 373.8L130.3 369.8L130.3 364.5L133.0 361.9L135.8 364.5L138.5 367.2L141.2 369.8L141.2 375.1L141.2 380.4L141.2 385.7L141.2 391.0L141.2 396.4L141.2 401.7L141.2 407.0L141.2 412.3L141.2 417.6L141.2 422.9L141.2 428.2L141.2 433.5L141.2 438.8L141.2 444.1L138.5 446.7L133.0 446.7ZM78.7 430.8L76.0 428.2L73.2 424.2L71.9 422.9L73.2 421.5L78.7 420.2L80.3 422.9L81.4 428.2ZM116.7 344.6L115.4 343.3L116.7 342.0L118.1 343.3ZM78.7 397.7L77.3 396.4L78.7 395.0L79.2 396.4ZM179.2 449.4L182.0 449.4L184.7 449.4L184.7 444.1L184.7 438.8L184.7 433.5L184.7 428.2L184.7 422.9L184.7 417.6L184.7 412.3L184.7 407.0L184.7 401.7L184.7 396.4L184.7 391.0L187.4 388.4L188.8 385.7L188.8 380.4L192.8 376.5L198.3 376.5L199.6 375.1L199.6 369.8L198.3 368.5L192.8 368.5L188.8 364.5L192.8 360.5L198.3 360.5L203.7 360.5L205.1 359.2L205.1 353.9L205.1 348.6L203.7 347.3L198.3 347.3L192.8 347.3L187.4 347.0L183.6 343.3L183.6 338.0L182.0 338.0L179.2 338.0L179.2 343.3L179.2 348.6L179.2 353.9L179.2 359.2L179.2 364.5L179.2 369.8L179.2 375.1L179.2 380.4L179.2 385.7L179.2 391.0L176.5 393.7L171.1 393.7L165.7 394.8L162.9 396.4L162.9 401.7L162.9 407.0L165.7 409.6L168.4 412.3L171.1 414.9L173.8 417.6L173.8 422.9L173.8 428.2L176.5 430.8L179.2 433.5L179.2 438.8L179.2 444.1ZM195.5 449.4L198.3 449.4L199.6 449.4L199.6 444.1L199.6 438.8L199.6 433.5L199.6 428.2L199.6 422.9L199.6 417.6L199.6 412.3L199.6 407.0L199.6 401.7L199.6 396.4L199.6 391.0L198.3 389.7L195.5 391.0L195.5 396.4L195.5 401.7L195.5 407.0L195.5 412.3L195.5 417.6L195.5 422.9L195.5 428.2L195.5 433.5L195.5 438.8L195.5 444.1ZM228.2 449.4L230.9 449.4L233.6 449.4L233.6 444.1L233.6 438.8L233.6 433.5L233.6 428.2L233.6 422.9L233.6 417.6L233.6 412.3L233.6 407.0L233.6 401.7L233.6 396.4L233.6 391.0L233.6 385.7L233.6 380.4L233.6 375.1L233.6 369.8L233.6 364.5L233.6 359.2L233.6 353.9L236.3 351.3L239.0 348.6L241.8 346.0L244.5 348.6L244.5 353.9L244.5 359.2L244.5 364.5L244.5 369.8L244.5 375.1L244.5 380.4L244.5 385.7L244.5 391.0L244.5 396.4L244.5 401.7L244.5 407.0L244.5 412.3L244.5 417.6L244.5 422.9L244.5 428.2L244.5 433.5L244.5 438.8L244.5 444.1L244.5 449.4L247.2 449.4L248.8 449.4L248.8 444.1L252.6 440.4L256.4 444.1L256.4 449.4L258.1 449.4L260.8 449.4L260.8 444.1L260.8 438.8L260.8 433.5L260.8 428.2L260.8 422.9L260.8 417.6L260.8 412.3L263.5 410.9L268.9 410.9L274.4 410.9L277.1 412.3L277.1 417.6L277.1 422.9L277.1 428.2L279.8 430.8L282.5 433.5L282.5 438.8L282.5 444.1L282.5 449.4L285.2 449.4L290.7 449.4L296.1 449.4L297.5 449.4L297.5 444.1L297.5 438.8L297.5 433.5L297.5 428.2L297.5 422.9L297.5 417.6L297.5 412.3L297.5 407.0L298.8 401.7L298.8 396.4L298.8 391.0L298.8 385.7L297.5 380.4L297.5 375.1L297.5 369.8L297.5 364.5L297.5 359.2L297.5 353.9L297.5 348.6L297.5 343.3L297.5 338.0L296.1 338.0L290.7 338.0L285.2 338.0L282.5 338.0L282.5 343.3L282.5 348.6L282.5 353.9L281.2 359.2L282.5 364.5L282.5 369.8L282.5 375.1L279.8 377.8L277.1 380.4L274.4 381.8L271.6 380.4L268.9 377.8L266.2 375.1L266.2 369.8L266.2 364.5L263.5 361.9L258.1 361.9L256.7 364.5L256.7 369.8L256.7 375.1L256.7 380.4L255.0 385.7L252.6 389.5L248.8 385.7L248.5 380.4L248.5 375.1L248.5 369.8L248.5 364.5L249.9 359.2L248.8 353.9L248.8 348.6L248.5 343.3L248.5 338.0L247.2 338.0L241.8 338.0L236.3 338.0L230.9 338.0L225.4 338.0L224.1 338.0L224.1 343.3L224.1 348.6L224.1 353.9L224.1 359.2L224.1 364.5L224.1 369.8L224.1 375.1L224.1 380.4L223.8 385.7L225.4 388.4L228.2 391.0L228.2 396.4L228.2 401.7L228.2 407.0L228.2 412.3L228.2 417.6L228.2 422.9L228.2 428.2L228.2 433.5L228.2 438.8L228.2 444.1ZM252.6 431.9L248.8 428.2L248.8 422.9L248.8 417.6L248.8 412.3L252.6 408.6L256.4 412.3L256.4 417.6L256.4 422.9L256.4 428.2ZM353.2 449.4L355.9 449.4L361.3 449.4L366.8 449.4L372.2 449.4L377.6 449.4L380.4 449.4L380.4 444.1L380.4 438.8L380.4 433.5L380.4 428.2L380.4 422.9L379.3 417.6L379.3 412.3L379.3 407.0L379.3 401.7L380.4 396.4L380.4 391.0L380.4 385.7L380.4 380.4L379.3 375.1L379.3 369.8L379.3 364.5L379.3 359.2L379.3 353.9L379.3 348.6L379.3 343.3L379.3 338.0L377.6 338.0L374.9 338.0L374.9 343.3L374.9 348.6L374.9 353.9L374.9 359.2L374.9 364.5L374.9 369.8L374.9 375.1L374.9 380.4L374.9 385.7L374.9 391.0L374.9 396.4L374.9 401.7L374.9 407.0L372.2 409.6L366.8 409.6L364.1 407.0L364.1 401.7L364.1 396.4L364.1 391.0L364.1 385.7L364.1 380.4L364.1 375.1L364.1 369.8L364.1 364.5L364.1 359.2L364.1 353.9L364.1 348.6L364.1 343.3L362.7 338.0L361.3 338.0L355.9 338.0L353.2 338.0L353.2 343.3L353.2 348.6L354.3 353.9L353.2 359.2L353.2 364.5L353.2 369.8L354.3 375.1L353.2 380.4L353.2 385.7L353.2 391.0L353.2 396.4L353.2 401.7L353.2 407.0L354.5 412.3L354.5 417.6L353.2 422.9L353.2 428.2L353.2 433.5L353.2 438.8L353.2 444.1ZM366.8 446.7L364.1 444.1L364.1 438.8L364.1 433.5L364.1 428.2L366.8 425.5L372.2 425.5L374.9 428.2L374.9 433.5L374.9 438.8L374.9 444.1L372.2 446.7ZM397.0 449.4L399.4 449.4L403.2 449.4L403.2 444.1L403.2 438.8L403.5 433.5L403.5 428.2L403.5 422.9L403.5 417.6L403.5 412.3L403.5 407.0L402.1 401.7L402.1 396.4L402.1 391.0L403.5 385.7L403.5 380.4L403.5 375.1L403.2 369.8L403.2 364.5L403.2 359.2L403.2 353.9L403.5 348.6L402.1 343.3L402.1 338.0L399.4 338.0L396.7 338.0L396.7 343.3L396.7 348.6L397.0 353.9L397.0 359.2L397.0 364.5L397.0 369.8L396.7 375.1L396.7 380.4L396.7 385.7L398.0 391.0L398.0 396.4L398.0 401.7L396.7 407.0L396.7 412.3L396.7 417.6L396.7 422.9L396.7 428.2L396.7 433.5L397.0 438.8L397.0 444.1ZM407.5 449.4L410.3 449.4L415.7 449.4L421.1 449.4L423.8 449.4L423.8 444.1L423.8 438.8L423.8 433.5L423.8 428.2L423.8 422.9L423.8 417.6L423.8 412.3L423.8 407.0L423.8 401.7L423.8 396.4L423.8 391.0L423.8 385.7L423.8 380.4L423.8 375.1L423.8 369.8L423.8 364.5L423.8 359.2L423.8 353.9L423.8 348.6L423.8 343.3L423.8 338.0L421.1 338.0L415.7 338.0L414.1 338.0L410.3 341.7L408.9 343.3L407.5 348.6L407.5 353.9L407.5 359.2L407.5 364.5L407.5 369.8L407.5 375.1L407.5 380.4L407.5 385.7L407.5 391.0L407.5 396.4L407.5 401.7L407.5 407.0L407.5 412.3L407.5 417.6L407.5 422.9L407.5 428.2L407.5 433.5L407.5 438.8L407.5 444.1ZM429.3 449.4L432.0 449.4L432.0 444.1L432.0 438.8L432.0 433.5L432.0 428.2L432.0 422.9L432.0 417.6L432.0 412.3L432.0 407.0L432.0 401.7L432.0 396.4L432.0 391.0L432.0 385.7L432.0 380.4L432.0 375.1L432.0 369.8L432.0 364.5L432.0 359.2L432.0 353.9L432.0 348.6L432.0 343.3L432.0 338.0L429.3 338.0L429.3 343.3L429.3 348.6L429.3 353.9L429.3 359.2L429.3 364.5L429.3 369.8L429.3 375.1L429.3 380.4L429.3 385.7L429.3 391.0L429.3 396.4L429.3 401.7L429.3 407.0L429.3 412.3L429.3 417.6L429.3 422.9L429.3 428.2L429.3 433.5L429.3 438.8L429.3 444.1ZM331.4 422.9L334.2 425.5L336.9 422.9L336.9 417.6L336.9 412.3L336.9 407.0L334.2 404.3L331.4 407.0L331.4 412.3L331.4 417.6ZM260.8 353.9L263.5 356.6L266.2 353.9L263.5 351.3ZM311.1 343.3L312.4 346.0L313.8 343.3L312.4 342.0Z"/>
<path fill="#7cc6f0" d="M399.0 449.4L399.4 449.4L399.9 449.4L399.9 444.1L399.9 438.8L400.7 433.5L400.7 428.2L400.7 422.9L400.7 417.6L400.7 412.3L400.7 407.0L399.4 404.3L398.5 407.0L398.5 412.3L398.5 417.6L398.5 422.9L398.5 428.2L398.5 433.5L399.0 438.8L399.0 444.1ZM288.0 438.8L290.7 441.4L293.4 438.8L293.4 433.5L293.4 428.2L293.4 422.9L293.4 417.6L293.4 412.3L294.7 407.0L296.1 404.3L297.0 401.7L297.0 396.4L297.0 391.0L297.0 385.7L296.1 383.1L293.4 380.4L293.4 375.1L293.4 369.8L293.4 364.5L293.4 359.2L293.4 353.9L293.4 348.6L293.4 343.3L290.7 340.7L288.0 343.3L288.0 348.6L288.0 353.9L285.2 356.6L283.9 359.2L285.2 361.9L288.0 364.5L288.0 369.8L288.0 375.1L288.0 380.4L285.2 381.8L279.8 383.1L274.4 384.4L268.9 381.8L263.5 381.8L258.1 383.1L257.0 385.7L254.0 391.0L254.0 396.4L255.3 401.7L258.1 404.3L260.8 407.0L263.5 408.3L268.9 408.3L274.4 408.3L279.8 409.6L282.5 412.3L285.2 414.9L288.0 417.6L288.0 422.9L288.0 428.2L288.0 433.5ZM99.1 433.5L100.4 434.8L101.8 433.5L101.8 428.2L100.4 426.9L99.1 428.2ZM83.6 422.9L84.1 424.2L85.5 422.9L84.1 421.5ZM86.8 401.7L89.5 404.3L95.0 404.3L97.7 401.7L100.4 399.0L103.1 396.4L100.4 393.7L95.0 393.7L89.5 393.7L84.1 393.7L82.5 396.4L84.1 399.0ZM66.4 385.7L67.8 388.4L70.5 385.7L69.2 380.4L69.2 375.1L70.5 369.8L70.5 364.5L70.5 359.2L70.5 353.9L70.5 348.6L70.5 343.3L70.5 338.0L67.8 338.0L65.1 338.0L65.1 343.3L65.1 348.6L65.1 353.9L65.1 359.2L65.1 364.5L65.1 369.8L67.3 375.1L67.3 380.4ZM82.8 385.7L84.1 387.1L85.5 385.7L85.5 380.4L84.1 379.1L82.8 380.4ZM398.5 385.7L399.4 388.4L400.7 385.7L400.7 380.4L400.7 375.1L399.9 369.8L399.9 364.5L399.9 359.2L399.9 353.9L400.7 348.6L400.3 343.3L400.3 338.0L399.4 338.0L398.5 338.0L398.5 343.3L398.5 348.6L399.0 353.9L399.0 359.2L399.0 364.5L399.0 369.8L398.5 375.1L398.5 380.4ZM97.7 380.4L100.4 383.1L105.9 381.8L107.2 380.4L107.2 375.1L107.2 369.8L105.9 368.5L100.4 367.2L97.7 369.8L97.7 375.1ZM77.3 369.8L78.7 371.2L80.0 369.8L78.7 368.5ZM81.4 364.5L84.1 367.2L86.8 364.5L89.5 360.5L90.9 359.2L90.9 353.9L90.9 348.6L89.5 347.3L84.1 346.0L81.4 348.6L81.4 353.9L81.4 359.2ZM97.7 359.2L100.4 361.9L103.1 359.2L103.1 353.9L100.4 351.3L97.7 353.9ZM97.7 343.3L100.4 346.0L103.1 343.3L100.4 340.7Z"/>
<path fill="#b8b5de" d="M281.2 407.0L285.2 410.9L290.7 409.6L292.0 407.0L294.7 401.7L295.2 396.4L295.2 391.0L293.4 385.7L290.7 383.1L285.2 384.4L282.5 385.7L279.8 388.4L274.4 387.1L271.6 385.7L268.9 384.4L263.5 384.4L260.8 385.7L258.1 388.4L256.7 391.0L256.7 396.4L258.1 399.0L259.4 401.7L263.5 405.6L268.9 406.1L274.4 404.3L279.8 405.6Z"/>
<path fill="#bfa0b6" d="M283.9 407.0L285.2 408.3L288.0 407.0L290.7 404.3L292.0 401.7L293.4 396.4L293.4 391.0L290.7 387.1L285.2 386.6L280.7 391.0L279.8 393.7L277.1 391.0L274.4 389.7L268.9 386.6L263.5 387.1L259.4 391.0L259.0 396.4L262.1 401.7L263.5 403.0L268.9 404.3L273.0 401.7L274.4 399.0L277.1 401.7L279.8 403.0Z"/>
<path fill="#f0a2aa" d="M266.2 401.7L268.9 402.5L270.3 401.7L273.5 396.4L273.0 391.0L268.9 388.4L263.5 389.7L262.1 391.0L260.8 396.4L263.5 400.3ZM280.7 401.7L285.2 406.1L289.8 401.7L290.7 399.0L291.6 396.4L291.6 391.0L290.7 389.7L285.2 388.4L282.5 391.0L280.7 396.4Z"/>
<path fill="#e87a7a" d="M282.5 401.7L285.2 404.3L288.0 401.7L289.3 396.4L288.0 391.0L285.2 390.2L284.3 391.0L282.5 396.4ZM262.6 396.4L263.5 397.7L268.9 400.3L271.6 396.4L270.3 391.0L268.9 390.2L266.2 391.0L263.5 393.7Z"/>
<path fill="#df5474" d="M284.3 401.7L285.2 402.5L286.1 401.7L286.6 396.4L285.2 393.7L284.3 396.4ZM266.2 396.4L268.9 397.7L269.8 396.4L268.9 393.7Z"/>
<line x1="149.1" y1="44" x2="149.1" y2="449" stroke="#56524e" stroke-width="1.7" stroke-dasharray="8.8 2.3" stroke-dashoffset="1.2"/>
<line x1="245.7" y1="44" x2="245.7" y2="449" stroke="#56524e" stroke-width="1.7" stroke-dasharray="8.8 2.3" stroke-dashoffset="1.2"/>
<line x1="342.3" y1="44" x2="342.3" y2="449" stroke="#56524e" stroke-width="1.7" stroke-dasharray="8.8 2.3" stroke-dashoffset="1.2"/>
<line x1="46.5" y1="44.00" x2="52.5" y2="44.00" stroke="#333" stroke-width="1.1"/>
<text x="41.5" y="47.90" text-anchor="end" class="yt">95.75</text>
<line x1="49.5" y1="49.36" x2="52.5" y2="49.36" stroke="#333" stroke-width="1.1"/>
<line x1="49.5" y1="54.71" x2="52.5" y2="54.71" stroke="#333" stroke-width="1.1"/>
<line x1="46.5" y1="60.07" x2="52.5" y2="60.07" stroke="#333" stroke-width="1.1"/>
<text x="41.5" y="63.97" text-anchor="end" class="yt">93.50</text>
<line x1="49.5" y1="65.43" x2="52.5" y2="65.43" stroke="#333" stroke-width="1.1"/>
<line x1="49.5" y1="70.79" x2="52.5" y2="70.79" stroke="#333" stroke-width="1.1"/>
<line x1="46.5" y1="76.14" x2="52.5" y2="76.14" stroke="#333" stroke-width="1.1"/>
<text x="41.5" y="80.04" text-anchor="end" class="yt">91.25</text>
<line x1="49.5" y1="81.50" x2="52.5" y2="81.50" stroke="#333" stroke-width="1.1"/>
<line x1="49.5" y1="86.86" x2="52.5" y2="86.86" stroke="#333" stroke-width="1.1"/>
<line x1="46.5" y1="92.21" x2="52.5" y2="92.21" stroke="#333" stroke-width="1.1"/>
<text x="41.5" y="96.11" text-anchor="end" class="yt">89.00</text>
<line x1="49.5" y1="97.57" x2="52.5" y2="97.57" stroke="#333" stroke-width="1.1"/>
<line x1="49.5" y1="102.93" x2="52.5" y2="102.93" stroke="#333" stroke-width="1.1"/>
<line x1="46.5" y1="108.29" x2="52.5" y2="108.29" stroke="#333" stroke-width="1.1"/>
<text x="41.5" y="112.19" text-anchor="end" class="yt">86.75</text>
<line x1="49.5" y1="113.64" x2="52.5" y2="113.64" stroke="#333" stroke-width="1.1"/>
<line x1="49.5" y1="119.00" x2="52.5" y2="119.00" stroke="#333" stroke-width="1.1"/>
<line x1="46.5" y1="124.36" x2="52.5" y2="124.36" stroke="#333" stroke-width="1.1"/>
<text x="41.5" y="128.26" text-anchor="end" class="yt">84.50</text>
<line x1="49.5" y1="129.71" x2="52.5" y2="129.71" stroke="#333" stroke-width="1.1"/>
<line x1="49.5" y1="135.07" x2="52.5" y2="135.07" stroke="#333" stroke-width="1.1"/>
<line x1="46.5" y1="140.43" x2="52.5" y2="140.43" stroke="#333" stroke-width="1.1"/>
<text x="41.5" y="144.33" text-anchor="end" class="yt">82.25</text>
<line x1="49.5" y1="145.79" x2="52.5" y2="145.79" stroke="#333" stroke-width="1.1"/>
<line x1="49.5" y1="151.14" x2="52.5" y2="151.14" stroke="#333" stroke-width="1.1"/>
<line x1="46.5" y1="156.50" x2="52.5" y2="156.50" stroke="#333" stroke-width="1.1"/>
<text x="41.5" y="160.40" text-anchor="end" class="yt">80.00</text>
<line x1="52.5" y1="156.5" x2="52.5" y2="167.0" stroke="#111" stroke-width="1.3"/>
<line x1="84.7" y1="156.5" x2="84.7" y2="167.0" stroke="#111" stroke-width="1.3"/>
<line x1="116.9" y1="156.5" x2="116.9" y2="167.0" stroke="#111" stroke-width="1.3"/>
<line x1="149.1" y1="156.5" x2="149.1" y2="167.0" stroke="#111" stroke-width="1.3"/>
<line x1="181.3" y1="156.5" x2="181.3" y2="167.0" stroke="#111" stroke-width="1.3"/>
<line x1="213.5" y1="156.5" x2="213.5" y2="167.0" stroke="#111" stroke-width="1.3"/>
<line x1="245.7" y1="156.5" x2="245.7" y2="167.0" stroke="#111" stroke-width="1.3"/>
<line x1="277.9" y1="156.5" x2="277.9" y2="167.0" stroke="#111" stroke-width="1.3"/>
<line x1="310.1" y1="156.5" x2="310.1" y2="167.0" stroke="#111" stroke-width="1.3"/>
<line x1="342.3" y1="156.5" x2="342.3" y2="167.0" stroke="#111" stroke-width="1.3"/>
<line x1="374.5" y1="156.5" x2="374.5" y2="167.0" stroke="#111" stroke-width="1.3"/>
<line x1="406.7" y1="156.5" x2="406.7" y2="167.0" stroke="#111" stroke-width="1.3"/>
<rect x="52.5" y="44.0" width="379.0" height="112.5" fill="none" stroke="#111" stroke-width="1.3"/>
<rect x="78.9" y="26.6" width="101" height="16.5" fill="#fff"/>
<text transform="translate(79.8 39.1) scale(1.05 1)" class="pl">Vertical beam</text>
<text transform="translate(14.5 104.2) rotate(-90)" text-anchor="middle" class="rl">Range (km)</text>
<line x1="45.0" y1="190.80" x2="51.0" y2="190.80" stroke="#777" stroke-width="1.1"/>
<text x="42.2" y="194.60" text-anchor="end" class="yt">95.75</text>
<line x1="48.0" y1="196.25" x2="51.0" y2="196.25" stroke="#777" stroke-width="1.1"/>
<line x1="48.0" y1="201.70" x2="51.0" y2="201.70" stroke="#777" stroke-width="1.1"/>
<line x1="45.0" y1="207.14" x2="51.0" y2="207.14" stroke="#777" stroke-width="1.1"/>
<text x="42.2" y="210.94" text-anchor="end" class="yt">93.50</text>
<line x1="48.0" y1="212.59" x2="51.0" y2="212.59" stroke="#777" stroke-width="1.1"/>
<line x1="48.0" y1="218.04" x2="51.0" y2="218.04" stroke="#777" stroke-width="1.1"/>
<line x1="45.0" y1="223.49" x2="51.0" y2="223.49" stroke="#777" stroke-width="1.1"/>
<text x="42.2" y="227.29" text-anchor="end" class="yt">91.25</text>
<line x1="48.0" y1="228.93" x2="51.0" y2="228.93" stroke="#777" stroke-width="1.1"/>
<line x1="48.0" y1="234.38" x2="51.0" y2="234.38" stroke="#777" stroke-width="1.1"/>
<line x1="45.0" y1="239.83" x2="51.0" y2="239.83" stroke="#777" stroke-width="1.1"/>
<text x="42.2" y="243.63" text-anchor="end" class="yt">89.00</text>
<line x1="48.0" y1="245.28" x2="51.0" y2="245.28" stroke="#777" stroke-width="1.1"/>
<line x1="48.0" y1="250.72" x2="51.0" y2="250.72" stroke="#777" stroke-width="1.1"/>
<line x1="45.0" y1="256.17" x2="51.0" y2="256.17" stroke="#777" stroke-width="1.1"/>
<text x="42.2" y="259.97" text-anchor="end" class="yt">86.75</text>
<line x1="48.0" y1="261.62" x2="51.0" y2="261.62" stroke="#777" stroke-width="1.1"/>
<line x1="48.0" y1="267.07" x2="51.0" y2="267.07" stroke="#777" stroke-width="1.1"/>
<line x1="45.0" y1="272.51" x2="51.0" y2="272.51" stroke="#777" stroke-width="1.1"/>
<text x="42.2" y="276.31" text-anchor="end" class="yt">84.50</text>
<line x1="48.0" y1="277.96" x2="51.0" y2="277.96" stroke="#777" stroke-width="1.1"/>
<line x1="48.0" y1="283.41" x2="51.0" y2="283.41" stroke="#777" stroke-width="1.1"/>
<line x1="45.0" y1="288.86" x2="51.0" y2="288.86" stroke="#777" stroke-width="1.1"/>
<text x="42.2" y="292.66" text-anchor="end" class="yt">82.25</text>
<line x1="48.0" y1="294.30" x2="51.0" y2="294.30" stroke="#777" stroke-width="1.1"/>
<line x1="48.0" y1="299.75" x2="51.0" y2="299.75" stroke="#777" stroke-width="1.1"/>
<line x1="45.0" y1="305.20" x2="51.0" y2="305.20" stroke="#777" stroke-width="1.1"/>
<text x="42.2" y="309.00" text-anchor="end" class="yt">80.00</text>
<line x1="52.5" y1="305.2" x2="52.5" y2="315.7" stroke="#111" stroke-width="1.3"/>
<line x1="84.7" y1="305.2" x2="84.7" y2="315.7" stroke="#111" stroke-width="1.3"/>
<line x1="116.9" y1="305.2" x2="116.9" y2="315.7" stroke="#111" stroke-width="1.3"/>
<line x1="149.1" y1="305.2" x2="149.1" y2="315.7" stroke="#111" stroke-width="1.3"/>
<line x1="181.3" y1="305.2" x2="181.3" y2="315.7" stroke="#111" stroke-width="1.3"/>
<line x1="213.5" y1="305.2" x2="213.5" y2="315.7" stroke="#111" stroke-width="1.3"/>
<line x1="245.7" y1="305.2" x2="245.7" y2="315.7" stroke="#111" stroke-width="1.3"/>
<line x1="277.9" y1="305.2" x2="277.9" y2="315.7" stroke="#111" stroke-width="1.3"/>
<line x1="310.1" y1="305.2" x2="310.1" y2="315.7" stroke="#111" stroke-width="1.3"/>
<line x1="342.3" y1="305.2" x2="342.3" y2="315.7" stroke="#111" stroke-width="1.3"/>
<line x1="374.5" y1="305.2" x2="374.5" y2="315.7" stroke="#111" stroke-width="1.3"/>
<line x1="406.7" y1="305.2" x2="406.7" y2="315.7" stroke="#111" stroke-width="1.3"/>
<rect x="78.9" y="171.2" width="87" height="16.5" fill="#fff"/>
<text transform="translate(79.8 183.7) scale(1.05 1)" class="pl">North beam</text>
<text transform="translate(14.5 252.0) rotate(-90)" text-anchor="middle" class="rl">Range (km)</text>
<line x1="45.5" y1="338.00" x2="51.5" y2="338.00" stroke="#333" stroke-width="1.1"/>
<text x="43.3" y="339.30" text-anchor="end" class="yt">95.75</text>
<line x1="48.5" y1="343.30" x2="51.5" y2="343.30" stroke="#333" stroke-width="1.1"/>
<line x1="48.5" y1="348.61" x2="51.5" y2="348.61" stroke="#333" stroke-width="1.1"/>
<line x1="45.5" y1="353.91" x2="51.5" y2="353.91" stroke="#333" stroke-width="1.1"/>
<text x="43.3" y="355.21" text-anchor="end" class="yt">93.50</text>
<line x1="48.5" y1="359.22" x2="51.5" y2="359.22" stroke="#333" stroke-width="1.1"/>
<line x1="48.5" y1="364.52" x2="51.5" y2="364.52" stroke="#333" stroke-width="1.1"/>
<line x1="45.5" y1="369.83" x2="51.5" y2="369.83" stroke="#333" stroke-width="1.1"/>
<text x="43.3" y="371.13" text-anchor="end" class="yt">91.25</text>
<line x1="48.5" y1="375.13" x2="51.5" y2="375.13" stroke="#333" stroke-width="1.1"/>
<line x1="48.5" y1="380.44" x2="51.5" y2="380.44" stroke="#333" stroke-width="1.1"/>
<line x1="45.5" y1="385.74" x2="51.5" y2="385.74" stroke="#333" stroke-width="1.1"/>
<text x="43.3" y="387.04" text-anchor="end" class="yt">89.00</text>
<line x1="48.5" y1="391.05" x2="51.5" y2="391.05" stroke="#333" stroke-width="1.1"/>
<line x1="48.5" y1="396.35" x2="51.5" y2="396.35" stroke="#333" stroke-width="1.1"/>
<line x1="45.5" y1="401.66" x2="51.5" y2="401.66" stroke="#333" stroke-width="1.1"/>
<text x="43.3" y="402.96" text-anchor="end" class="yt">86.75</text>
<line x1="48.5" y1="406.96" x2="51.5" y2="406.96" stroke="#333" stroke-width="1.1"/>
<line x1="48.5" y1="412.27" x2="51.5" y2="412.27" stroke="#333" stroke-width="1.1"/>
<line x1="45.5" y1="417.57" x2="51.5" y2="417.57" stroke="#333" stroke-width="1.1"/>
<text x="43.3" y="418.87" text-anchor="end" class="yt">84.50</text>
<line x1="48.5" y1="422.88" x2="51.5" y2="422.88" stroke="#333" stroke-width="1.1"/>
<line x1="48.5" y1="428.18" x2="51.5" y2="428.18" stroke="#333" stroke-width="1.1"/>
<line x1="45.5" y1="433.49" x2="51.5" y2="433.49" stroke="#333" stroke-width="1.1"/>
<text x="43.3" y="434.79" text-anchor="end" class="yt">82.25</text>
<line x1="48.5" y1="438.79" x2="51.5" y2="438.79" stroke="#333" stroke-width="1.1"/>
<line x1="48.5" y1="444.10" x2="51.5" y2="444.10" stroke="#333" stroke-width="1.1"/>
<line x1="45.5" y1="449.40" x2="51.5" y2="449.40" stroke="#333" stroke-width="1.1"/>
<text x="43.3" y="450.70" text-anchor="end" class="yt">80.00</text>
<line x1="52.5" y1="449.4" x2="52.5" y2="459.9" stroke="#111" stroke-width="1.3"/>
<line x1="84.7" y1="449.4" x2="84.7" y2="459.9" stroke="#111" stroke-width="1.3"/>
<line x1="116.9" y1="449.4" x2="116.9" y2="459.9" stroke="#111" stroke-width="1.3"/>
<line x1="149.1" y1="449.4" x2="149.1" y2="459.9" stroke="#111" stroke-width="1.3"/>
<line x1="181.3" y1="449.4" x2="181.3" y2="459.9" stroke="#111" stroke-width="1.3"/>
<line x1="213.5" y1="449.4" x2="213.5" y2="459.9" stroke="#111" stroke-width="1.3"/>
<line x1="245.7" y1="449.4" x2="245.7" y2="459.9" stroke="#111" stroke-width="1.3"/>
<line x1="277.9" y1="449.4" x2="277.9" y2="459.9" stroke="#111" stroke-width="1.3"/>
<line x1="310.1" y1="449.4" x2="310.1" y2="459.9" stroke="#111" stroke-width="1.3"/>
<line x1="342.3" y1="449.4" x2="342.3" y2="459.9" stroke="#111" stroke-width="1.3"/>
<line x1="374.5" y1="449.4" x2="374.5" y2="459.9" stroke="#111" stroke-width="1.3"/>
<line x1="406.7" y1="449.4" x2="406.7" y2="459.9" stroke="#111" stroke-width="1.3"/>
<rect x="51.5" y="338.0" width="380.5" height="111.4" fill="none" stroke="#111" stroke-width="1.3"/>
<rect x="78.9" y="318.5" width="83" height="16.5" fill="#fff"/>
<text transform="translate(79.8 331.0) scale(1.05 1)" class="pl">West beam</text>
<text transform="translate(14.5 397.7) rotate(-90)" text-anchor="middle" class="rl">Range (km)</text>
<text x="58.1" y="474.7" text-anchor="middle" class="xt">09:00</text>
<text x="154.7" y="474.7" text-anchor="middle" class="xt">12:00</text>
<text x="251.3" y="474.7" text-anchor="middle" class="xt">15:00</text>
<text x="347.9" y="474.7" text-anchor="middle" class="xt">18:00</text>
<text x="119.3" y="494.3" class="xl">Time (GMT)</text>
<text x="245.3" y="494.3" class="xl">14 June 2018</text>
<text class="ti" transform="translate(155.2 17.6) scale(1.05 1)">ABITIBI CANYON</text>
<text class="ti" transform="translate(294.2 17.6) scale(1.02 1)">(49.9</text>
<text class="ti" x="330.6" y="13.4" style="font-size:14.5px">°</text>
<text class="ti" transform="translate(340.6 17.6) scale(1.02 1)">N)</text>
<rect x="462.5" y="159.50" width="24.5" height="20.45" fill="#dc2419"/>
<text x="498.3" y="174.40" class="cb">&gt; 9.6</text>
<rect x="462.5" y="179.65" width="24.5" height="20.45" fill="#df5474"/>
<text x="491.8" y="191.90" class="cb">8.4 – 9.6</text>
<rect x="462.5" y="199.80" width="24.5" height="20.45" fill="#e87a7a"/>
<text x="491.8" y="212.90" class="cb">7.2 – 8.4</text>
<rect x="462.5" y="219.95" width="24.5" height="20.45" fill="#f0a2aa"/>
<text x="491.8" y="235.60" class="cb">6.0 – 7.2</text>
<rect x="462.5" y="240.10" width="24.5" height="20.45" fill="#bfa0b6"/>
<text x="491.8" y="255.60" class="cb">4.8 – 6.0</text>
<rect x="462.5" y="260.25" width="24.5" height="20.45" fill="#b8b5de"/>
<text x="491.8" y="275.80" class="cb">3.6 – 4.8</text>
<rect x="462.5" y="280.40" width="24.5" height="20.45" fill="#7cc6f0"/>
<text x="491.8" y="295.70" class="cb">2.4 – 3.6</text>
<rect x="462.5" y="300.55" width="24.5" height="20.45" fill="#1094dd"/>
<text x="491.8" y="315.70" class="cb">1.2 – 2.4</text>
<rect x="462.5" y="320.70" width="24.5" height="20.45" fill="#0b74c2"/>
<text x="491.8" y="336.70" class="cb">0.0 – 1.2</text>
<rect x="462.5" y="340.85" width="24.5" height="20.45" fill="#29186c"/>
<text x="496.5" y="358.70" class="cb">&lt; 0.0</text>
<text transform="translate(457.8 233) rotate(-90)" text-anchor="middle" class="cbl">SNR (dB)</text>
</svg>
</body></html>
